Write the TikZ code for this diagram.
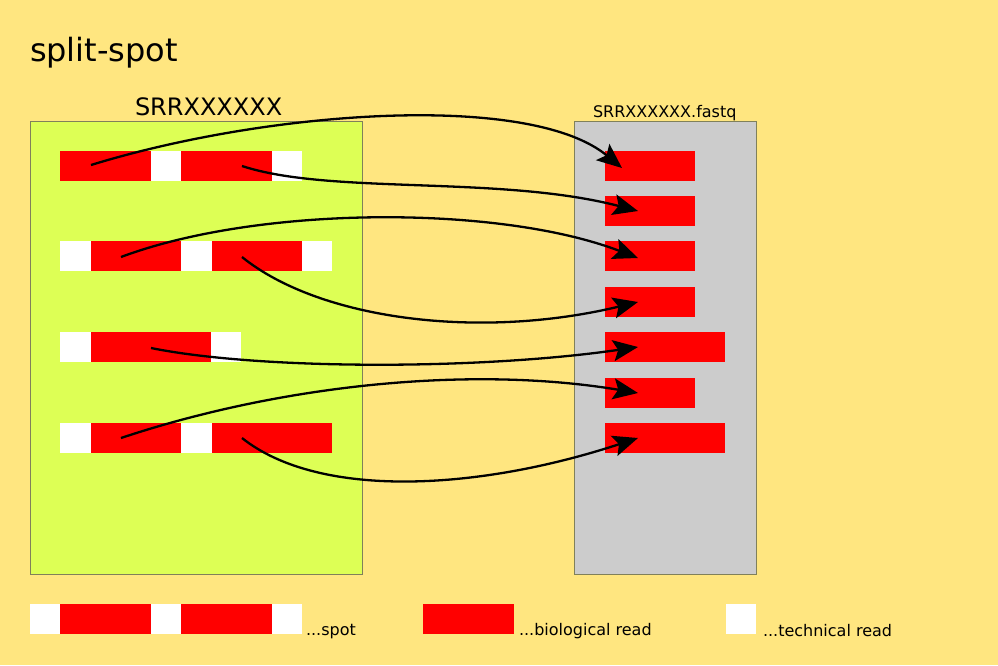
\documentclass[tikz,border=0pt]{standalone}
\usepackage{fontspec}
\setmainfont{DejaVu Sans}
\usetikzlibrary{arrows.meta,calc}
\definecolor{bgyellow}{HTML}{FFE680}
\definecolor{boxgreen}{HTML}{DDFF55}
\definecolor{boxgray}{HTML}{CCCCCC}
\definecolor{boxedge}{RGB}{128,128,90}
\begin{document}
\begin{tikzpicture}[x=1pt,y=-1pt,
  cell/.style={inner sep=0pt, outer sep=0pt, minimum height=30pt, anchor=north west},
  bio/.style={cell, fill=red},
  tech/.style={cell, fill=white},
  panel/.style={draw=boxedge, line width=0.9pt, inner sep=0pt, outer sep=0pt, anchor=north west, minimum height=453pt},
  lbl/.style={anchor=base west, inner sep=0pt, outer sep=0pt},
  link/.style={line width=2.3pt, -{Stealth[length=25pt,width=21pt,inset=5pt]}}]
\fill[bgyellow] (0,0) rectangle (998,665);
\useasboundingbox (0,0) rectangle (998,665);

% title
\node[lbl, font=\fontsize{32}{38}\selectfont] (title) at (30,61) {split-spot};

% panels
\node[panel, fill=boxgreen, minimum width=332pt] (sra) at (30,121) {};
\node[panel, fill=boxgray, minimum width=182pt] (fastq) at (574,121) {};
\node[lbl, font=\fontsize{24}{28}\selectfont] (sralabel) at (135,115) {SRRXXXXXX};
\node[lbl, font=\fontsize{16}{19}\selectfont] (fastqlabel) at (593,117) {SRRXXXXXX.fastq};

% spots (left)
\node[bio, minimum width=91pt] (L1a) at (60,151) {};
\node[tech, minimum width=30pt] (T1a) at (151,151) {};
\node[bio, minimum width=91pt] (L1b) at (181,151) {};
\node[tech, minimum width=30pt] (T1b) at (272,151) {};

\node[tech, minimum width=31pt] (T2a) at (60,241) {};
\node[bio, minimum width=90pt] (L2a) at (91,241) {};
\node[tech, minimum width=31pt] (T2b) at (181,241) {};
\node[bio, minimum width=90pt] (L2b) at (212,241) {};
\node[tech, minimum width=30pt] (T2c) at (302,241) {};

\node[tech, minimum width=31pt] (T3a) at (60,332) {};
\node[bio, minimum width=120pt] (L3a) at (91,332) {};
\node[tech, minimum width=30pt] (T3b) at (211,332) {};

\node[tech, minimum width=31pt] (T4a) at (60,423) {};
\node[bio, minimum width=90pt] (L4a) at (91,423) {};
\node[tech, minimum width=31pt] (T4b) at (181,423) {};
\node[bio, minimum width=120pt] (L4b) at (212,423) {};

% reads (right)
\node[bio, minimum width=90pt] (R1) at (605,151) {};
\node[bio, minimum width=90pt] (R2) at (605,196) {};
\node[bio, minimum width=90pt] (R3) at (605,241) {};
\node[bio, minimum width=90pt] (R4) at (605,287) {};
\node[bio, minimum width=120pt] (R5) at (605,332) {};
\node[bio, minimum width=90pt] (R6) at (605,378) {};
\node[bio, minimum width=120pt] (R7) at (605,423) {};

% connectors
\draw[link] ($(L1a.west)+(31,-1)$) .. controls (270,110) and (530,92) .. ($(R1.west)+(17,2)$);
\draw[link] ($(L1b.west)+(61,0)$) .. controls (330,195) and (500,175) .. ($(R2.west)+(33,0)$);
\draw[link] ($(L2a.west)+(30,1)$) .. controls (260,205) and (500,205) .. ($(R3.west)+(33,2)$);
\draw[link] ($(L2b.west)+(30,1)$) .. controls (320,320) and (480,340) .. ($(R4.west)+(33,0)$);
\draw[link] ($(L3a.west)+(60,1)$) .. controls (260,370) and (480,370) .. ($(R5.west)+(33,0)$);
\draw[link] ($(L4a.west)+(30,0)$) .. controls (280,385) and (470,365) .. ($(R6.west)+(33,0)$);
\draw[link] ($(L4b.west)+(30,0)$) .. controls (320,500) and (480,490) .. ($(R7.west)+(33,0)$);

% legend
\node[tech, minimum width=30pt] (G1) at (30,604) {};
\node[bio, minimum width=91pt] (G2) at (60,604) {};
\node[tech, minimum width=30pt] (G3) at (151,604) {};
\node[bio, minimum width=91pt] (G4) at (181,604) {};
\node[tech, minimum width=30pt] (G5) at (272,604) {};
\node[lbl, font=\fontsize{16}{19}\selectfont] (spotlbl) at (306,635) {...spot};
\node[bio, minimum width=91pt] (G6) at (423,604) {};
\node[lbl, font=\fontsize{16}{19}\selectfont] (biolbl) at (519,635) {...biological read};
\node[tech, minimum width=30pt] (G7) at (726,604) {};
\node[lbl, font=\fontsize{16}{19}\selectfont] (techlbl) at (763,636) {...technical read};
\end{tikzpicture}
\end{document}
